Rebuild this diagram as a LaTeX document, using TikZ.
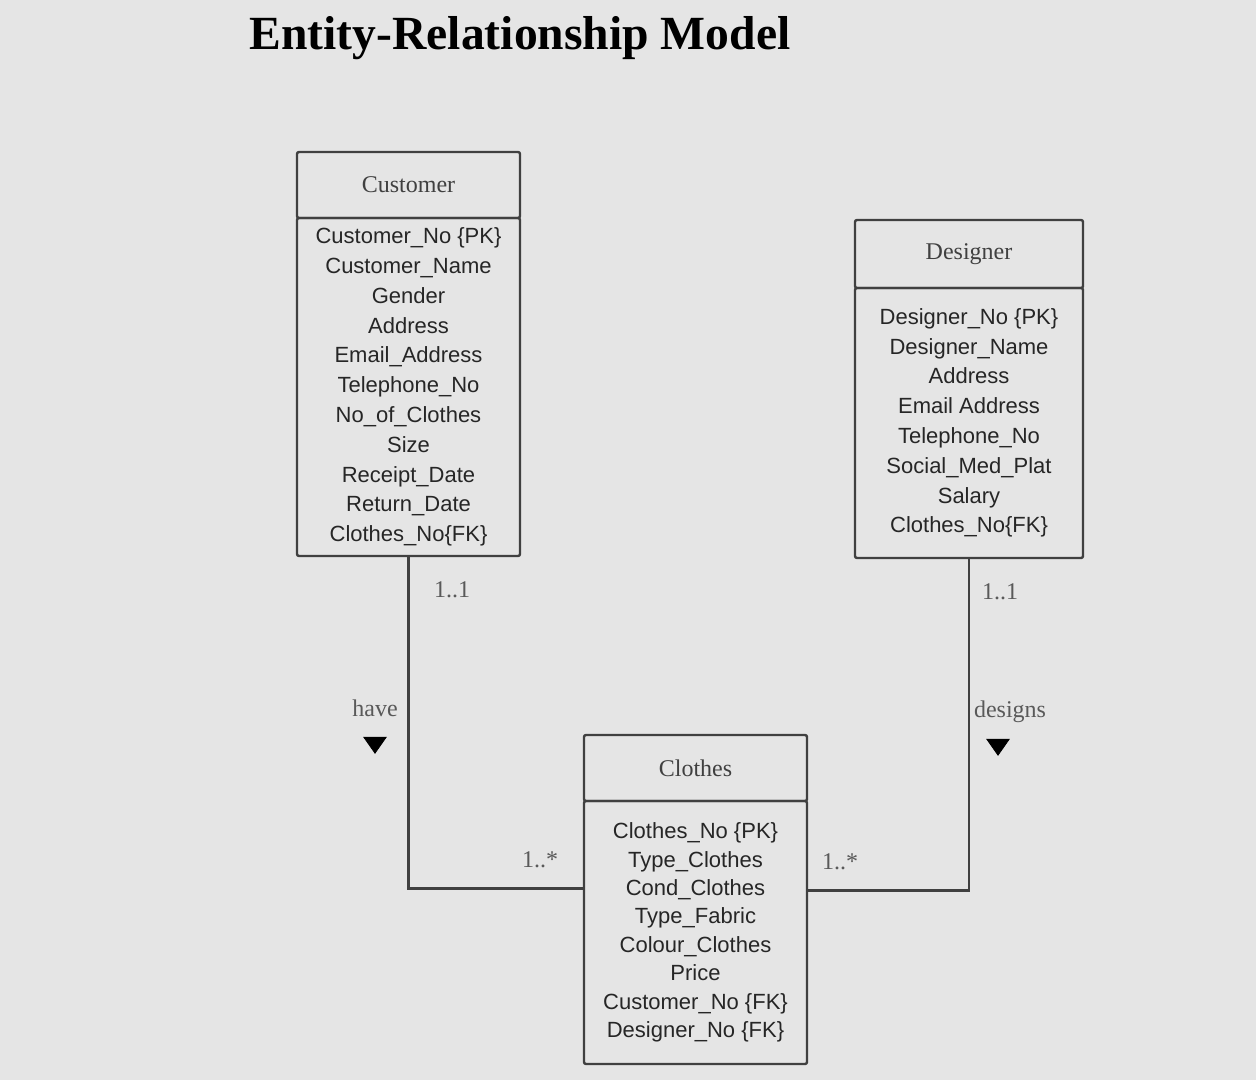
\documentclass[tikz,border=0pt]{standalone}
\usepackage{fontspec}
\setmainfont{Liberation Serif}
\newfontfamily\attrfont{Liberation Sans}
\usetikzlibrary{shapes.geometric}
\begin{document}
\begin{tikzpicture}[x=0.5pt,y=-0.5pt,
  boxline/.style={draw=black!75, line width=1.2pt, rounded corners=1pt, inner sep=0pt},
  hdr/.style={boxline, font=\fontsize{12}{14}\selectfont, text=black!75},
  attrs/.style={boxline, align=center, font=\attrfont\fontsize{11}{14.9}\selectfont, text=black!85},
  conn/.style={draw=black!75, line width=1.1pt},
  lbl/.style={font=\fontsize{12}{14}\selectfont, text=black!65, inner sep=1pt},
  marker/.style={isosceles triangle, shape border rotate=270, fill=black, draw=black, minimum width=9pt, minimum height=8pt, inner sep=0pt, isosceles triangle apex angle=70}]
\fill[black!10] (0,0) rectangle (1256,1080);
\useasboundingbox (0,0) rectangle (1256,1080);
\node[font=\bfseries\fontsize{23.8}{27}\selectfont] (title) at (520,38) {Entity-Relationship Model};
% Customer
\node[hdr, minimum width=111.5pt, minimum height=33pt] (chead) at (408.5,185) {Customer};
\node[attrs, minimum width=111.5pt, minimum height=169pt] (cbody) at (408.5,387) {Customer\_No \{PK\}\\Customer\_Name\\Gender\\Address\\Email\_Address\\Telephone\_No\\No\_of\_Clothes\\Size\\Receipt\_Date\\Return\_Date\\Clothes\_No\{FK\}};
% Designer
\node[hdr, minimum width=114pt, minimum height=34pt] (dhead) at (969,254) {Designer};
\node[attrs, minimum width=114pt, minimum height=135pt] (dbody) at (969,423) {Designer\_No \{PK\}\\Designer\_Name\\Address\\Email Address\\Telephone\_No\\Social\_Med\_Plat\\Salary\\Clothes\_No\{FK\}};
% Clothes
\node[hdr, minimum width=111.5pt, minimum height=33pt] (lhead) at (695.5,768) {Clothes};
\node[attrs, minimum width=111.5pt, minimum height=131.5pt, font=\attrfont\fontsize{11}{14.2}\selectfont] (lbody) at (695.5,932.5) {Clothes\_No \{PK\}\\Type\_Clothes\\Cond\_Clothes\\Type\_Fabric\\Colour\_Clothes\\Price\\Customer\_No \{FK\}\\Designer\_No \{FK\}};
% connectors
\draw[conn] (cbody.south) |- ([yshift=22pt]lbody.west);
\draw[conn] (dbody.south) |- ([yshift=21pt]lbody.east);
% labels
\node[lbl] (c11) at (452,590) {1..1};
\node[lbl] (have) at (375,708) {have};
\node[marker] (m1) at (375,743) {};
\node[lbl] (c1s) at (540,860) {1..*};
\node[lbl] (d11) at (1000,592) {1..1};
\node[lbl] (designs) at (1010,712) {designs};
\node[marker] (m2) at (998,745) {};
\node[lbl] (d1s) at (840,862) {1..*};
\end{tikzpicture}
\end{document}
